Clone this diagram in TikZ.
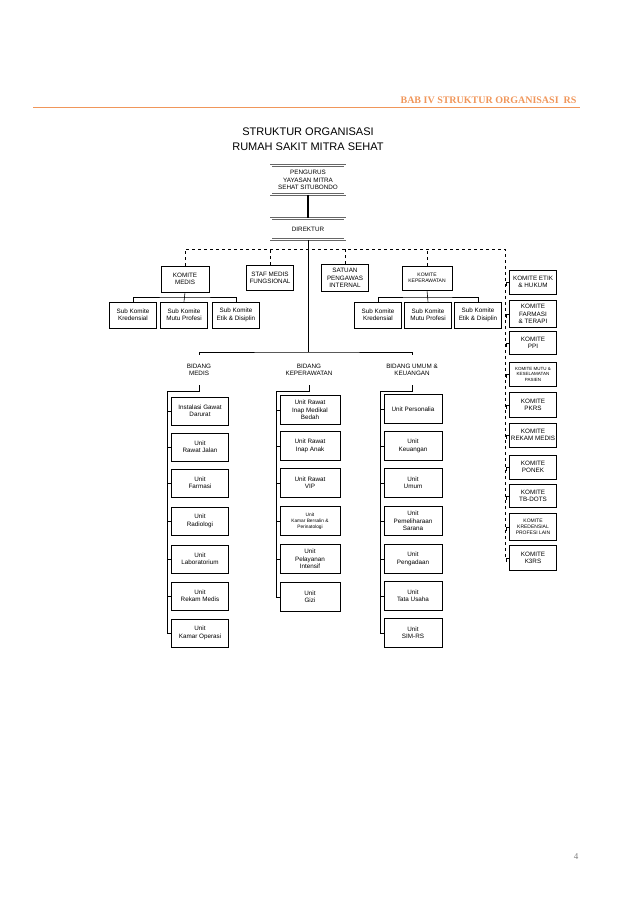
\documentclass[tikz,border=0pt]{standalone}
\usepackage{fontspec}
\setmainfont{Liberation Sans}
\newfontfamily\headfont{Liberation Serif}
\usetikzlibrary{positioning}
\definecolor{orangehead}{RGB}{240,150,90}
\begin{document}
\begin{tikzpicture}[x=1pt, y=-1pt,
    box/.style={draw, line width=0.6pt, align=center, inner sep=1pt, font=\fontsize{6.3}{7.3}\selectfont},
    dbox/.style={box, double=white, draw=gray!80!black, double distance=1.2pt},
    small/.style={font=\fontsize{5}{6}\selectfont},
    dline/.style={dashed, line width=0.6pt},
    link/.style={line width=0.6pt}]
\useasboundingbox (0,0) rectangle (638,902);

% header
\node[anchor=east, text=orangehead, font=\headfont\bfseries\fontsize{10}{12}\selectfont] (head) at (580,100) {BAB IV STRUKTUR ORGANISASI\ \ RS};
\draw[orangehead, line width=1pt] (33,107) coordinate (hl) -- (580,107) coordinate (hr);
\node[align=center, font=\fontsize{11}{15}\selectfont] (title) at (308,139) {STRUKTUR ORGANISASI\\RUMAH SAKIT MITRA SEHAT};
\node[text=gray, font=\headfont\fontsize{9}{10}\selectfont] (page) at (576,857) {4};

% top
\node[dbox, minimum width=74pt, minimum height=29pt] (yys) at (308,180) {PENGURUS\\YAYASAN MITRA\\SEHAT SITUBONDO};
\node[dbox, minimum width=74pt, minimum height=21pt] (dir) at (308,229) {DIREKTUR};
\coordinate (bus) at (308,352);
\draw[line width=1.3pt] (yys) -- (dir);
\draw[line width=1pt] (dir) -- (bus);

% staff and committees
\node[box, minimum width=48pt, minimum height=26pt] (km) at (185,279) {KOMITE\\MEDIS};
\node[box, minimum width=47pt, minimum height=25pt] (smf) at (270,278) {STAF MEDIS\\FUNGSIONAL};
\node[box, minimum width=47pt, minimum height=27pt] (spi) at (345,278) {SATUAN\\PENGAWAS\\INTERNAL};
\node[box, small, minimum width=50pt, minimum height=24pt] (kk) at (427,278) {KOMITE\\KEPERAWATAN};
\coordinate (dl) at (185,249);
\coordinate (dr) at (505,249);
\coordinate (de) at (505,557);
\draw[dline] (km.north) -- (dl) -- (dr) -- (de);
\foreach \n in {smf,spi,kk} \draw[dline] (\n.north) -- (\n.north |- dl);

\foreach \n/\x/\t in {mk/133/Kredensial, mm/184/Mutu Profesi, me/236/Etik \& Disiplin,
                      pk/378/Kredensial, pm/428/Mutu Profesi, pe/478/Etik \& Disiplin}
  \node[box, minimum width=47pt, minimum height=26pt] (\n) at (\x,315) {Sub Komite\\\t};
\foreach \p/\a/\b/\c in {km/mk/mm/me, kk/pk/pm/pe} {
  \draw[link] (\p.south) -- (\b.north);
  \draw[link] (\a.north) |- (\p.south |- 0,297) -| (\c.north);
}

% right column of committees
\foreach \n/\y/\h/\t in {ke/282/24/{KOMITE ETIK\\\& HUKUM}, kf/314/27/{KOMITE\\FARMASI\\\& TERAPI},
    kp/343/23/{KOMITE\\PPI}, kpr/405/25/{KOMITE\\PKRS}, krm/435/24/{KOMITE\\REKAM MEDIS},
    kpo/467/24/{KOMITE\\PONEK}, ktb/496/23/{KOMITE\\TB-DOTS}, kk3/558/25/{KOMITE\\K3RS}}
  \node[box, minimum width=47pt, minimum height=\h pt] (\n) at (533,\y) {\t};
\node[box, font=\fontsize{4.5}{5.5}\selectfont, minimum width=47pt, minimum height=24pt] (kms) at (533,374) {KOMITE MUTU \&\\KESELAMATAN\\PASIEN};
\node[box, small, minimum width=47pt, minimum height=27pt] (kkl) at (533,527) {KOMITE\\KREDENSIAL\\PROFESI LAIN};
\foreach \n in {ke,kf,kp,kms,kpr,krm,kpo,ktb,kkl,kk3}
  \draw[link] (\n.west) -- ++(-3,0) -- ++(0,4);

% bidang
\node[dbox, minimum width=66pt, minimum height=30pt] (bm) at (199,370) {BIDANG\\MEDIS};
\node[dbox, minimum width=68pt, minimum height=30pt] (bk) at (309,370) {BIDANG\\KEPERAWATAN};
\node[dbox, minimum width=62pt, minimum height=30pt] (bu) at (412,370) {BIDANG UMUM \&\\KEUANGAN};
\draw[link] (bm.north) |- (bus) -| (bu.north);

% units
\foreach \n/\y/\t in {1/411/{Instalasi Gawat\\Darurat}, 2/447/{Unit\\Rawat Jalan}, 3/483/{Unit\\Farmasi},
    4/521/{Unit\\Radiologi}, 5/559/{Unit\\Laboratorium}, 6/596/{Unit\\Rekam Medis}, 7/633/{Unit\\Kamar Operasi}}
  \node[box, minimum width=57pt, minimum height=28pt] (m\n) at (200,\y) {\t};
\foreach \n/\y/\t in {1/410/{Unit Rawat\\Inap Medikal\\Bedah}, 2/446/{Unit Rawat\\Inap Anak}, 3/483/{Unit Rawat\\VIP},
    5/559/{Unit\\Pelayanan\\Intensif}, 6/597/{Unit\\Gizi}}
  \node[box, minimum width=60pt, minimum height=29pt] (k\n) at (310,\y) {\t};
\node[box, font=\fontsize{4.8}{5.8}\selectfont, minimum width=60pt, minimum height=29pt] (k4) at (310,521) {Unit\\Kamar Bersalin \&\\Perinatologi};
\foreach \n/\y/\t in {1/409/{Unit Personalia}, 2/446/{Unit\\Keuangan}, 3/483/{Unit\\Umum},
    4/521/{Unit\\Pemeliharaan\\Sarana}, 5/559/{Unit\\Pengadaan}, 6/596/{Unit\\Tata Usaha}, 7/633/{Unit\\SIM-RS}}
  \node[box, minimum width=58pt, minimum height=29pt] (u\n) at (413,\y) {\t};

\coordinate (ms) at (167,391);
\coordinate (ks) at (276,391);
\coordinate (us) at (380,391);
\draw[link] (bm.south) |- (ms) -- (ms |- m7.west);
\draw[link] (bk.south) |- (ks) -- (ks |- k6.west);
\draw[link] (bu.south) |- (us) -- (us |- u7.west);
\foreach \i in {1,...,7} {
  \draw[link] (ms |- m\i.west) -- (m\i.west);
  \draw[link] (us |- u\i.west) -- (u\i.west);
}
\foreach \i in {1,...,6} \draw[link] (ks |- k\i.west) -- (k\i.west);
\end{tikzpicture}
\end{document}
